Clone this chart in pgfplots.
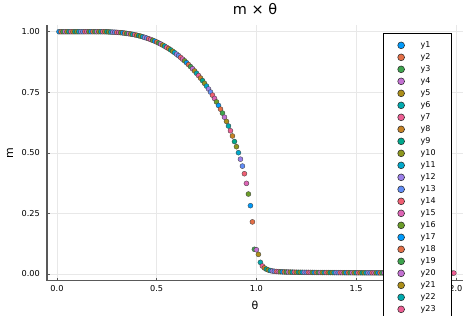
\documentclass[border=0pt]{standalone}
\usepackage{fontspec}
\setmainfont{DejaVu Sans}
\usepackage{pgfplots}
\usepackage{pgfplotstable}
\pgfplotsset{compat=1.18}
\definecolor{c1}{RGB}{0,154,250}
\definecolor{c2}{RGB}{227,111,71}
\definecolor{c3}{RGB}{62,164,78}
\definecolor{c4}{RGB}{195,113,210}
\definecolor{c5}{RGB}{172,142,24}
\definecolor{c6}{RGB}{0,170,174}
\definecolor{c7}{RGB}{237,94,147}
\definecolor{c8}{RGB}{198,130,37}
\definecolor{c9}{RGB}{0,169,141}
\definecolor{c10}{RGB}{142,151,30}
\definecolor{c11}{RGB}{0,168,203}
\definecolor{c12}{RGB}{155,127,233}
\definecolor{c13}{RGB}{97,141,246}
\definecolor{c14}{RGB}{240,95,115}
\definecolor{c15}{RGB}{221,100,181}
\definecolor{c16}{RGB}{107,157,41}
\tikzset{
  jm/.style={mark=*, draw=black!75, fill=#1},
  leg/.style={only marks, mark=*, mark size=3.4bp, draw=black!85, fill=#1, line width=0.5bp},
}
\pgfplotstableread{
th m c
0.01 1.0000 a
0.02 1.0000 b
0.03 1.0000 c
0.04 1.0000 d
0.05 1.0000 e
0.06 1.0000 f
0.07 1.0000 g
0.08 1.0000 h
0.09 1.0000 i
0.10 1.0000 j
0.11 1.0000 k
0.12 1.0000 l
0.13 1.0000 m
0.14 1.0000 n
0.15 1.0000 o
0.16 1.0000 p
0.17 1.0000 a
0.18 1.0000 b
0.19 1.0000 c
0.20 1.0000 d
0.21 1.0000 e
0.22 1.0000 f
0.23 1.0000 g
0.24 0.9999 h
0.25 0.9998 i
0.26 0.9992 j
0.27 0.9987 k
0.28 0.9983 l
0.29 0.9980 m
0.30 0.9974 n
0.31 0.9967 o
0.32 0.9960 p
0.33 0.9952 a
0.34 0.9941 b
0.35 0.9929 c
0.36 0.9917 d
0.37 0.9905 e
0.38 0.9890 f
0.39 0.9873 g
0.40 0.9856 h
0.41 0.9835 i
0.42 0.9814 j
0.43 0.9791 k
0.44 0.9764 l
0.45 0.9737 m
0.46 0.9710 n
0.47 0.9678 o
0.48 0.9645 p
0.49 0.9611 a
0.50 0.9574 b
0.51 0.9534 c
0.52 0.9494 d
0.53 0.9449 e
0.54 0.9404 f
0.55 0.9354 g
0.56 0.9304 h
0.57 0.9251 i
0.58 0.9194 j
0.59 0.9134 k
0.60 0.9072 l
0.61 0.9008 m
0.62 0.8939 n
0.63 0.8868 o
0.64 0.8797 p
0.65 0.8718 a
0.66 0.8639 b
0.67 0.8556 c
0.68 0.8469 d
0.69 0.8380 e
0.70 0.8285 f
0.71 0.8189 g
0.72 0.8085 h
0.73 0.7980 i
0.74 0.7868 j
0.75 0.7754 k
0.76 0.7635 l
0.77 0.7509 m
0.78 0.7381 n
0.79 0.7245 o
0.80 0.7103 p
0.81 0.6956 a
0.82 0.6803 b
0.83 0.6641 c
0.84 0.6471 d
0.85 0.6298 e
0.86 0.6108 f
0.87 0.5911 g
0.88 0.5696 h
0.89 0.5466 i
0.90 0.5254 j
0.91 0.5006 k
0.92 0.4739 l
0.93 0.4453 m
0.94 0.4139 n
0.95 0.3740 o
0.96 0.3300 p
0.97 0.2820 a
0.98 0.2150 b
0.99 0.1020 c
1.00 0.1000 d
1.01 0.0810 e
1.02 0.0480 f
1.03 0.0330 g
1.04 0.0250 h
1.05 0.0200 i
1.06 0.0165 j
1.07 0.0140 k
1.08 0.0125 l
1.09 0.0112 m
1.10 0.0103 n
1.11 0.0097 o
1.12 0.0092 p
1.13 0.0088 a
1.14 0.0085 b
1.15 0.0082 c
1.16 0.0080 d
1.17 0.0078 e
1.18 0.0076 f
1.19 0.0074 g
1.20 0.0072 h
1.21 0.0071 i
1.22 0.0070 j
1.23 0.0069 k
1.24 0.0068 l
1.25 0.0067 m
1.26 0.0066 n
1.27 0.0065 o
1.28 0.0064 p
1.29 0.0063 a
1.30 0.0062 b
1.31 0.0061 c
1.32 0.0061 d
1.33 0.0060 e
1.34 0.0060 f
1.35 0.0059 g
1.36 0.0059 h
1.37 0.0058 i
1.38 0.0058 j
1.39 0.0057 k
1.40 0.0057 l
1.41 0.0056 m
1.42 0.0056 n
1.43 0.0055 o
1.44 0.0055 p
1.45 0.0054 a
1.46 0.0054 b
1.47 0.0053 c
1.48 0.0053 d
1.49 0.0052 e
1.50 0.0052 f
1.51 0.0051 g
1.52 0.0051 h
1.53 0.0050 i
1.54 0.0050 j
1.55 0.0050 k
1.56 0.0049 l
1.57 0.0049 m
1.58 0.0049 n
1.59 0.0048 o
1.60 0.0048 p
1.61 0.0048 a
1.62 0.0047 b
1.63 0.0047 c
1.64 0.0047 d
1.65 0.0047 e
1.66 0.0046 f
1.67 0.0046 g
1.68 0.0046 h
1.69 0.0046 i
1.70 0.0045 j
1.71 0.0045 k
1.72 0.0045 l
1.73 0.0045 m
1.74 0.0044 n
1.75 0.0044 o
1.76 0.0044 p
1.77 0.0044 a
1.78 0.0043 b
1.79 0.0043 c
1.80 0.0043 d
1.81 0.0042 e
1.82 0.0042 f
1.83 0.0042 g
1.84 0.0042 h
1.85 0.0041 i
1.86 0.0041 j
1.87 0.0041 k
1.88 0.0041 l
1.89 0.0040 m
1.90 0.0040 n
1.91 0.0040 o
1.92 0.0040 p
1.93 0.0039 a
1.94 0.0039 b
1.95 0.0039 c
1.96 0.0039 d
1.97 0.0038 e
1.98 0.0038 f
1.99 0.0038 g
}\datatable

\begin{document}
\begin{tikzpicture}
\begin{axis}[
  at={(47bp,35.3bp)}, anchor=south west,
  scale only axis, width=416bp, height=255.7bp,
  xmin=-0.05, xmax=2.036, ymin=-0.0277, ymax=1.0277,
  axis x line*=bottom, axis y line*=left,
  axis line style={black!65, line width=1.1bp},
  tick align=inside, major tick length=3bp,
  tick style={black!65, line width=0.6bp},
  xtick={0,0.5,1,1.5,2}, ytick={0,0.25,0.5,0.75,1},
  scaled ticks=false,
  grid=major, grid style={black!9, line width=0.5bp},
  /pgf/number format/assume math mode=true,
  xticklabel style={font=\fontsize{8.2}{9}\selectfont, inner sep=0pt, yshift=-5bp,
    /pgf/number format/fixed, /pgf/number format/fixed zerofill, /pgf/number format/precision=1},
  yticklabel style={font=\fontsize{8.2}{9}\selectfont, inner sep=0pt, xshift=-7bp,
    /pgf/number format/fixed, /pgf/number format/fixed zerofill, /pgf/number format/precision=2},
  title={m × θ},
  title style={font=\fontsize{14.5}{16}\selectfont, at={(axis description cs:0.5,1.0403)}, anchor=base, yshift=-6pt},
  xlabel={θ},
  xlabel style={font=\fontsize{11}{12}\selectfont, at={(axis description cs:0.5,-0.1118)}, anchor=base},
  ylabel={m},
  ylabel style={font=\fontsize{11}{12}\selectfont, at={(axis description cs:-0.0817,0.5)}, anchor=base},
  scatter/classes={
    a={jm=c1}, b={jm=c2}, c={jm=c3}, d={jm=c4}, e={jm=c5}, f={jm=c6}, g={jm=c7}, h={jm=c8},
    i={jm=c9}, j={jm=c10}, k={jm=c11}, l={jm=c12}, m={jm=c13}, n={jm=c14}, o={jm=c15}, p={jm=c16}},
  legend image code/.code={\path[draw=none, fill=none] (0bp,0bp) (20bp,0bp); \draw[#1, only marks] plot coordinates {(10bp,0bp)};},
  legend cell align=left,
  legend style={
    at={(axis description cs:0.8084,0.9699)}, anchor=north west,
    draw=black, line width=0.7bp, fill=white,
    inner xsep=7.5bp, inner ysep=6.3bp,
    font=\fontsize{8}{9}\selectfont,
    column sep=6.6bp, row sep=0pt,
    nodes={inner xsep=3bp, inner ysep=2bp, text height=6bp, text depth=2bp, text width=20bp, align=left},
  },
]
\addplot[scatter, only marks, point meta=explicit symbolic, mark size=2.5bp,
  mark options={line width=0.35bp}, forget plot]
  table[x=th, y=m, meta=c] {\datatable};
\addlegendimage{leg=c1}\addlegendentry{y1}
\addlegendimage{leg=c2}\addlegendentry{y2}
\addlegendimage{leg=c3}\addlegendentry{y3}
\addlegendimage{leg=c4}\addlegendentry{y4}
\addlegendimage{leg=c5}\addlegendentry{y5}
\addlegendimage{leg=c6}\addlegendentry{y6}
\addlegendimage{leg=c7}\addlegendentry{y7}
\addlegendimage{leg=c8}\addlegendentry{y8}
\addlegendimage{leg=c9}\addlegendentry{y9}
\addlegendimage{leg=c10}\addlegendentry{y10}
\addlegendimage{leg=c11}\addlegendentry{y11}
\addlegendimage{leg=c12}\addlegendentry{y12}
\addlegendimage{leg=c13}\addlegendentry{y13}
\addlegendimage{leg=c14}\addlegendentry{y14}
\addlegendimage{leg=c15}\addlegendentry{y15}
\addlegendimage{leg=c16}\addlegendentry{y16}
\addlegendimage{leg=c1}\addlegendentry{y17}
\addlegendimage{leg=c2}\addlegendentry{y18}
\addlegendimage{leg=c3}\addlegendentry{y19}
\addlegendimage{leg=c4}\addlegendentry{y20}
\addlegendimage{leg=c5}\addlegendentry{y21}
\addlegendimage{leg=c6}\addlegendentry{y22}
\addlegendimage{leg=c7}\addlegendentry{y23}
\end{axis}
\pgfresetboundingbox
\path[use as bounding box] (0bp,0bp) rectangle (474bp,316bp);
\end{tikzpicture}
\end{document}
